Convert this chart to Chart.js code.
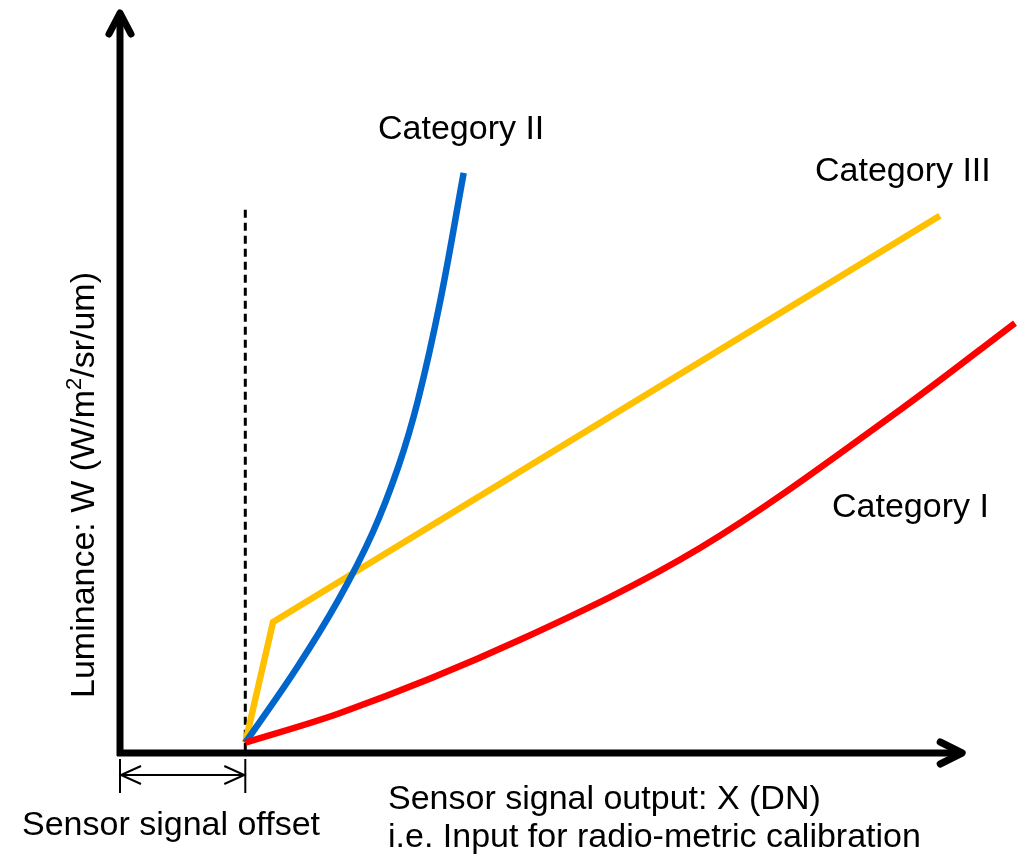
<!DOCTYPE html>
<html>
<head>
<meta charset="utf-8">
<script src="https://cdn.jsdelivr.net/npm/chart.js@4/dist/chart.umd.min.js"></script>
<style>
  html, body { margin: 0; padding: 0; background: #fff; }
  canvas { display: block; }
</style>
</head>
<body>
<canvas id="calibChart" width="1024" height="863"></canvas>
<script>
// Sensor output X (DN, relative units) vs luminance W (relative units)
const offsetX = 14.0;
const offsetTopY = 73.4;

const cat1X = [14.0, 24.6, 44.7, 64.8, 87.2, 100.0];
const cat1Y = [1.4, 5.4, 15.3, 27.7, 46.4, 58.1];

const cat2X = [14.0, 19.8, 24.4, 28.2, 31.1, 33.3, 35.8, 38.4];
const cat2Y = [1.4, 11.6, 20.7, 29.7, 38.7, 47.7, 61.2, 78.4];

const cat3X = [14.0, 17.1, 91.6];
const cat3Y = [1.4, 17.7, 72.6];

const xAxisEnd = 94.1;
const yAxisEnd = 100;

const FONT = '34px "Liberation Sans", Arial, sans-serif';
const SUP_FONT = '22px "Liberation Sans", Arial, sans-serif';

function toPoints(xs, ys) {
    return xs.map((x, i) => ({ x: x, y: ys[i] }));
}

function arrowHead(ctx, tipX, tipY, dir, len, half) {
    ctx.beginPath();
    if (dir === 'up') {
        ctx.moveTo(tipX - half, tipY + len);
        ctx.lineTo(tipX, tipY);
        ctx.lineTo(tipX + half, tipY + len);
    } else if (dir === 'right') {
        ctx.moveTo(tipX - len, tipY - half);
        ctx.lineTo(tipX, tipY);
        ctx.lineTo(tipX - len, tipY + half);
    } else {
        ctx.moveTo(tipX + len, tipY - half);
        ctx.lineTo(tipX, tipY);
        ctx.lineTo(tipX + len, tipY + half);
    }
    ctx.stroke();
}

const decorPlugin = {
    id: 'decor',
    beforeDatasetsDraw(chart) {
        const ctx = chart.ctx;
        const xs = chart.scales.x;
        const ys = chart.scales.y;
        const ox = xs.getPixelForValue(offsetX);
        ctx.save();
        // dashed offset line
        ctx.strokeStyle = '#000';
        ctx.lineWidth = 3;
        ctx.setLineDash([8, 5]);
        ctx.beginPath();
        ctx.moveTo(ox, ys.getPixelForValue(offsetTopY));
        ctx.lineTo(ox, ys.getPixelForValue(0));
        ctx.stroke();
        ctx.restore();
    },
    afterDatasetsDraw(chart) {
        const ctx = chart.ctx;
        const xs = chart.scales.x;
        const ys = chart.scales.y;
        const x0 = xs.getPixelForValue(0);
        const y0 = ys.getPixelForValue(0);
        const ox = xs.getPixelForValue(offsetX);
        const xEnd = xs.getPixelForValue(xAxisEnd);
        const yEnd = ys.getPixelForValue(yAxisEnd);

        ctx.save();
        // axes
        ctx.strokeStyle = '#000';
        ctx.lineWidth = 7;
        ctx.lineCap = 'butt';
        ctx.beginPath();
        ctx.moveTo(x0, y0 + 3);
        ctx.lineTo(x0, yEnd + 2);
        ctx.moveTo(x0 - 3, y0);
        ctx.lineTo(xEnd - 2, y0);
        ctx.stroke();
        ctx.lineCap = 'round';
        ctx.lineJoin = 'round';
        arrowHead(ctx, x0, yEnd, 'up', 21, 11);
        arrowHead(ctx, xEnd, y0, 'right', 22, 11);

        // offset dimension arrow
        ctx.lineWidth = 2;
        ctx.lineCap = 'butt';
        ctx.lineJoin = 'miter';
        ctx.beginPath();
        ctx.moveTo(x0, y0 + 6);
        ctx.lineTo(x0, y0 + 40);
        ctx.moveTo(ox, y0 + 6);
        ctx.lineTo(ox, y0 + 40);
        ctx.moveTo(x0, y0 + 22);
        ctx.lineTo(ox, y0 + 22);
        ctx.stroke();
        arrowHead(ctx, x0 + 1, y0 + 22, 'left', 20, 9);
        arrowHead(ctx, ox - 1, y0 + 22, 'right', 20, 9);

        // text
        ctx.fillStyle = '#000';
        ctx.font = FONT;
        ctx.textBaseline = 'middle';
        ctx.textAlign = 'left';
        ctx.fillText('Category II', 378, 130);
        ctx.fillText('Category III', 815, 172);
        ctx.fillText('Category I', 832, 508);
        ctx.fillText('Sensor signal output: X (DN)', 388, 800);
        ctx.fillText('i.e. Input for radio-metric calibration', 388, 838);
        ctx.fillText('Sensor signal offset', 22, 826);

        // y axis title with superscript
        const p1 = 'Luminance: W (W/m';
        const p2 = '2';
        const p3 = '/sr/um)';
        ctx.translate(85, 485);
        ctx.rotate(-Math.PI / 2);
        ctx.font = FONT;
        const w1 = ctx.measureText(p1).width;
        const w3 = ctx.measureText(p3).width;
        ctx.font = SUP_FONT;
        const w2 = ctx.measureText(p2).width;
        let cx = -(w1 + w2 + w3) / 2;
        ctx.font = FONT;
        ctx.fillText(p1, cx, 0);
        cx += w1;
        ctx.font = SUP_FONT;
        ctx.fillText(p2, cx, -10);
        cx += w2;
        ctx.font = FONT;
        ctx.fillText(p3, cx, 0);
        ctx.restore();
    }
};

new Chart(document.getElementById('calibChart').getContext('2d'), {
    type: 'line',
    data: {
        datasets: [
            {
                label: 'Category I',
                data: toPoints(cat1X, cat1Y),
                borderColor: '#ff0000',
                borderWidth: 6.5,
                cubicInterpolationMode: 'monotone',
                pointRadius: 0,
                fill: false,
                clip: false
            },
            {
                label: 'Category II',
                data: toPoints(cat2X, cat2Y),
                borderColor: '#0066cc',
                borderWidth: 6.5,
                tension: 0.4,
                pointRadius: 0,
                fill: false,
                clip: false
            },
            {
                label: 'Category III',
                data: toPoints(cat3X, cat3Y),
                borderColor: '#ffc000',
                borderWidth: 6.5,
                tension: 0,
                borderJoinStyle: 'miter',
                pointRadius: 0,
                fill: false,
                clip: false
            }
        ]
    },
    options: {
        responsive: false,
        animation: false,
        devicePixelRatio: 1,
        layout: { padding: { left: 120, right: 9, top: 13, bottom: 110 } },
        scales: {
            x: { type: 'linear', min: 0, max: 100, display: false },
            y: { type: 'linear', min: 0, max: 100, display: false }
        },
        plugins: {
            legend: { display: false },
            tooltip: { enabled: false },
            title: { display: false }
        }
    },
    plugins: [decorPlugin]
});
</script>
</body>
</html>
